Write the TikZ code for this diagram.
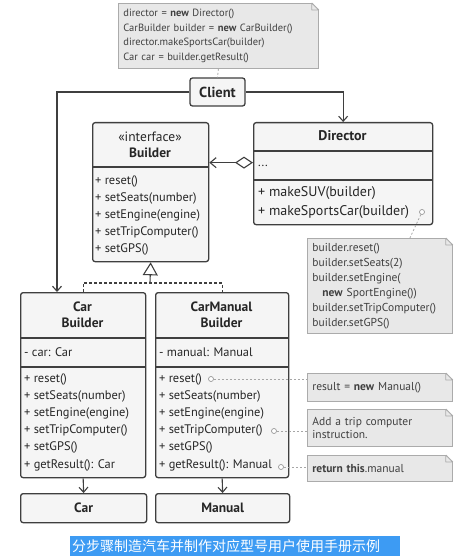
\documentclass[tikz,border=0pt]{standalone}
\usepackage{fontspec}
\setmainfont{PT Sans}
\newfontfamily\cjk{Noto Sans CJK SC}
\usetikzlibrary{arrows.meta,calc}
\definecolor{lineclr}{HTML}{3F3F3F}
\definecolor{boxfill}{HTML}{F5F5F5}
\definecolor{notefill}{HTML}{E8E8E8}
\definecolor{noteline}{HTML}{ABABAB}
\definecolor{captionblue}{HTML}{3D9BF3}

\begin{document}
\begin{tikzpicture}[x=1pt, y=-1pt,
    classbox/.style={draw=lineclr, fill=boxfill, line width=1.3pt, rounded corners=2.5pt, inner sep=0pt, anchor=north west},
    note/.style={rectangle, draw=noteline, fill=notefill, line width=0.8pt, anchor=north west,
        inner xsep=5pt, inner ysep=0pt, align=left, text=black!75},
    member/.style={anchor=west, inner sep=0pt, align=left, font=\fontsize{12.4}{17.2}\selectfont, text=black!85},
    heading/.style={font=\bfseries\fontsize{13.5}{16}\selectfont, align=center, text=black!85},
    divider/.style={draw=lineclr, line width=1.3pt},
    link/.style={draw=lineclr, line width=1.1pt},
    toarrow/.style={-{Straight Barb[length=5pt,width=9pt,line width=1.1pt]}},
    dotlink/.style={draw=black!35, line width=0.8pt, dash pattern=on 2pt off 2pt},
    pin/.style={circle, draw=black!40, fill=white, line width=0.7pt, minimum size=5pt, inner sep=0pt}
  ]
  \useasboundingbox (0,0) rectangle (474,556);

  % Client and its note
  \node[note, minimum width=200pt, minimum height=65pt, text width=190pt,
        font=\fontsize{10.5}{14.5}\selectfont] (topnote) at (118,3)
    {director = \textbf{new} Director()\\
     CarBuilder builder = \textbf{new} CarBuilder()\\
     director.makeSportsCar(builder)\\
     Car car = builder.getResult()};
  \node[classbox, anchor=center, minimum width=55pt, minimum height=28pt, heading,
        font=\bfseries\fontsize{14.5}{16}\selectfont] (client) at (217.5,92) {Client};

  % Builder interface
  \node[classbox, minimum width=116pt, minimum height=139pt] (builder) at (92,122) {};
  \draw[divider] (92,167) -- (208,167);
  \node[heading] (buildertitle) at (150,145) {\mdseries«interface»\\Builder};
  \node[member, font=\fontsize{12.4}{17}\selectfont] (builderops) at (95,215)
    {+ reset()\\+ setSeats(number)\\+ setEngine(engine)\\+ setTripComputer()\\+ setGPS()};

  % Director
  \node[classbox, minimum width=179pt, minimum height=102pt] (director) at (253,122) {};
  \draw[divider] (253,151) -- (432,151);
  \draw[divider] (253,180) -- (432,180);
  \node[heading, font=\bfseries\fontsize{14}{16}\selectfont] (directortitle) at (342.5,136) {Director};
  \node[member] (directorfield) at (258,166) {...};
  \node[member, font=\fontsize{14}{19}\selectfont] (directorops) at (258,202.5)
    {+ makeSUV(builder)\\+ makeSportsCar(builder)};
  \node[pin] (pindir) at (422,212) {};
  \node[note, minimum width=145pt, minimum height=95pt, text width=135pt,
        font=\fontsize{11.5}{15}\selectfont] (dirnote) at (307,238)
    {builder.reset()\\
     builder.setSeats(2)\\
     builder.setEngine(\\
     \hspace*{10pt}\textbf{new} SportEngine())\\
     builder.setTripComputer()\\
     builder.setGPS()};

  % Concrete builders
  \node[classbox, minimum width=125pt, minimum height=185pt] (carbuilder) at (20,292) {};
  \draw[divider] (20,338) -- (145,338);
  \draw[divider] (20,367) -- (145,367);
  \node[heading] (carbuildertitle) at (82.5,315) {Car\\Builder};
  \node[member] (carbuilderfield) at (24,352) {- car: Car};
  \node[member] (carbuilderops) at (24,422)
    {+ reset()\\+ setSeats(number)\\+ setEngine(engine)\\+ setTripComputer()\\+ setGPS()\\+ getResult(): Car};

  \node[classbox, minimum width=133pt, minimum height=185pt] (manualbuilder) at (155,292) {};
  \draw[divider] (155,338) -- (288,338);
  \draw[divider] (155,367) -- (288,367);
  \node[heading] (manualbuildertitle) at (221.5,315) {CarManual\\Builder};
  \node[member] (manualbuilderfield) at (159,352) {- manual: Manual};
  \node[member] (manualbuilderops) at (159,422)
    {+ reset()\\+ setSeats(number)\\+ setEngine(engine)\\+ setTripComputer()\\+ setGPS()\\+ getResult(): Manual};

  % Products
  \node[classbox, minimum width=126pt, minimum height=29pt, heading] (car) at (20,493) {Car};
  \node[classbox, minimum width=134pt, minimum height=29pt, heading] (manual) at (155,493) {Manual};

  % Notes on the manual builder
  \node[pin] (pinreset) at (211,379) {};
  \node[pin] (pintrip) at (274,431) {};
  \node[pin] (pinresult) at (281,467) {};
  \node[note, minimum width=145pt, minimum height=28pt, text width=135pt,
        font=\fontsize{11.5}{13}\selectfont] (resetnote) at (307,373)
    {result = \textbf{new} Manual()};
  \node[note, minimum width=145pt, minimum height=37pt, text width=135pt,
        font=\fontsize{11.5}{13}\selectfont] (tripnote) at (307,409)
    {Add a trip computer\\instruction.};
  \node[note, minimum width=145pt, minimum height=26pt, text width=135pt,
        font=\fontsize{11.5}{13}\selectfont] (resultnote) at (307,455)
    {\textbf{return this}.manual};

  % Folded note corners
  \foreach \n in {topnote, dirnote, resetnote, tripnote, resultnote} {
    \fill[white] ($(\n.north east)+(-7.3,-1)$) -- ($(\n.north east)+(1,-1)$) -- ($(\n.north east)+(1,7.3)$) -- cycle;
    \draw[draw=noteline, line width=0.8pt, line join=round]
      ($(\n.north east)+(-7,0)$) -- ($(\n.north east)+(0,7)$)
      ($(\n.north east)+(-7,0)$) -- ($(\n.north east)+(-7,7)$) -- ($(\n.north east)+(0,7)$);
  }

  % Connectors
  \draw[dotlink] (topnote.south) -- (client.north);
  \draw[link, toarrow] (client.west) -| ([xshift=37pt]carbuilder.north west);
  \draw[link, toarrow] (client.east) -| (director.north);

  \coordinate (aggr) at ([yshift=11pt]director.west);
  \draw[link, {Diamond[open, length=18pt, width=12pt, line width=1.1pt]}-{Straight Barb[length=6pt,width=10pt,line width=1.1pt]}]
    (aggr) -- (aggr -| builder.east);

  \coordinate (impl) at (150,283);
  \draw[link, dash pattern=on 3pt off 2pt] (carbuilder.north) |- (impl) -| (manualbuilder.north);
  \draw[link, -{Triangle[open, length=13pt, width=15pt, line width=1.1pt]}] (impl) -- (builder.south);

  \draw[link, toarrow] (carbuilder.south) -- (car.north);
  \draw[link, toarrow] (manualbuilder.south) -- (manual.north);

  \draw[dotlink] (pindir) -- ([xshift=30pt]dirnote.north);
  \draw[dotlink] (pinreset) -- (pinreset -| resetnote.west);
  \draw[dotlink] (pintrip) -- (pintrip -| tripnote.west);
  \draw[dotlink] (pinresult) -- (pinresult -| resultnote.west);

  % Caption
  \node[fill=captionblue, text=white, font=\cjk\fontsize{14}{14}\selectfont, anchor=north west,
        minimum width=330pt, minimum height=20pt, inner xsep=2pt, text width=326pt, align=left] (caption) at (70,536)
    {分步骤制造汽车并制作对应型号用户使用手册示例};
\end{tikzpicture}
\end{document}
